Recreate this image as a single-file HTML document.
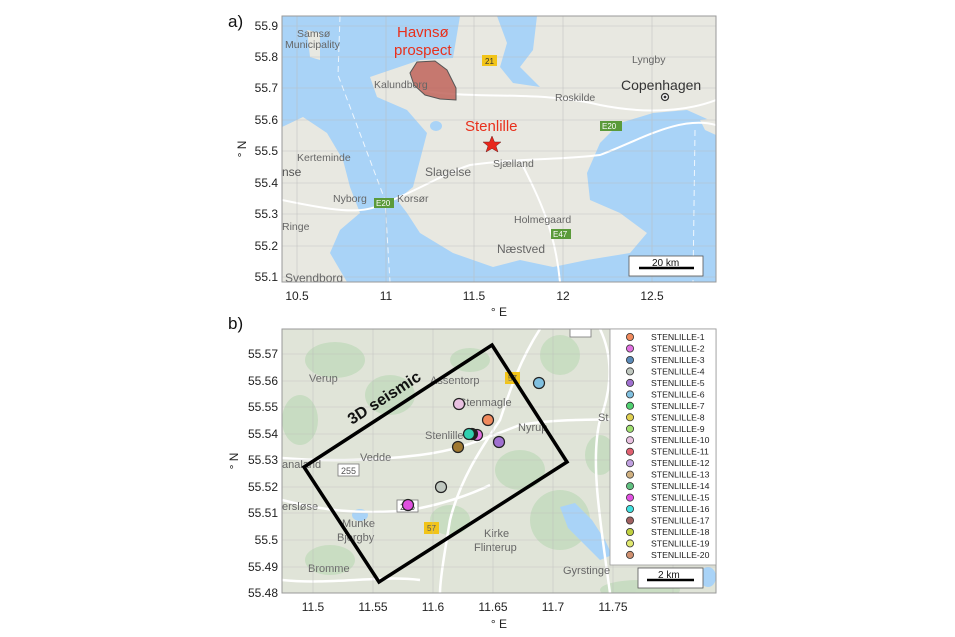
<!DOCTYPE html>
<html><head><meta charset="utf-8"><style>
body{margin:0;background:#fff;}
svg{display:block;font-family:"Liberation Sans",sans-serif;}
</style></head><body>
<svg width="955" height="637" viewBox="0 0 955 637" xmlns="http://www.w3.org/2000/svg">
<defs>
<clipPath id="ca"><rect x="282" y="16" width="434" height="266"/></clipPath>
<clipPath id="cb"><rect x="282" y="329" width="434" height="264"/></clipPath>
</defs>
<!-- ===== Panel a ===== -->
<g clip-path="url(#ca)">
<rect x="282" y="16" width="434" height="266" fill="#a9d3f7"/>
<polygon fill="#e8e8e1" points="370,77 420,60 453,58 460,16 716,16 716,123 687,110 653,113 620,123 600,143 587,173 590,200 620,213 647,233 630,253 587,260 553,267 520,260 493,267 453,253 420,233 407,213 397,200 413,187 420,160 427,133 407,110 377,97"/>
<polygon fill="#a9d3f7" points="497,16 537,16 533,50 520,67 540,87 513,83 500,67 507,43"/>
<polygon fill="#e8e8e1" points="282,127 303,117 327,133 343,160 350,187 360,213 340,230 330,253 347,282 282,282"/>
<polygon fill="#e8e8e1" points="307,30 320,33 320,60 310,57"/>
<polygon fill="#e8e8e1" points="700,120 716,118 716,135 705,130"/>
<ellipse cx="436" cy="126" rx="6" ry="5" fill="#a9d3f7"/>
<g stroke="#fff" stroke-width="2" fill="none">
<path d="M282,200 C330,210 360,215 380,205 C420,190 440,175 470,165 C520,158 560,160 600,155 C640,140 680,115 716,125"/>
<path d="M420,90 C470,100 540,90 600,105 C650,115 690,110 716,100"/>
<path d="M520,160 C540,200 555,230 560,282"/>
</g>
<g stroke="#fff" stroke-width="1" stroke-dasharray="6,4" fill="none" opacity="0.8">
<path d="M340,16 L338,75 L385,200 L390,282"/>
<path d="M695,130 L693,282"/>
</g>
<g stroke="#bbb" stroke-width="0.6" opacity="0.8">
<line x1="297" y1="16" x2="297" y2="282"/><line x1="386" y1="16" x2="386" y2="282"/><line x1="474" y1="16" x2="474" y2="282"/><line x1="563" y1="16" x2="563" y2="282"/><line x1="652" y1="16" x2="652" y2="282"/>
<line x1="282" y1="26" x2="716" y2="26"/><line x1="282" y1="57" x2="716" y2="57"/><line x1="282" y1="88" x2="716" y2="88"/><line x1="282" y1="120" x2="716" y2="120"/><line x1="282" y1="151" x2="716" y2="151"/><line x1="282" y1="183" x2="716" y2="183"/><line x1="282" y1="214" x2="716" y2="214"/><line x1="282" y1="246" x2="716" y2="246"/><line x1="282" y1="277" x2="716" y2="277"/>
</g>
<path d="M417,62 L435,61 L447,70 L456,88 L456,100 L440,99 L425,95 L414,85 L410,73 Z" fill="#c0645a" fill-opacity="0.85" stroke="#555" stroke-width="1"/>
<g fill="#666" font-size="10.5">
<text x="297" y="37">Samsø</text><text x="285" y="48">Municipality</text>
<text x="374" y="88">Kalundborg</text>
<text x="632" y="63">Lyngby</text>
<text x="555" y="101">Roskilde</text>
<text x="297" y="161">Kerteminde</text>
<text x="493" y="167">Sjælland</text>
<text x="425" y="176" font-size="12">Slagelse</text>
<text x="333" y="202">Nyborg</text><text x="397" y="202">Korsør</text>
<text x="514" y="223">Holmegaard</text>
<text x="282" y="230">Ringe</text>
<text x="497" y="253" font-size="12">Næstved</text>
<text x="285" y="282" font-size="12">Svendborg</text>
<text x="282" y="176" font-size="12" fill="#555">nse</text>
</g>
<text x="621" y="90" font-size="14" fill="#333">Copenhagen</text>
<circle cx="665" cy="97" r="3.5" fill="#fff" stroke="#333" stroke-width="1.3"/><circle cx="665" cy="97" r="1.4" fill="#333"/>
<rect x="482" y="55" width="15" height="11" fill="#f2c418"/><text x="485" y="64" font-size="8" fill="#333">21</text>
<rect x="600" y="121" width="22" height="10" fill="#5a9a3a"/><text x="602" y="129" font-size="8" fill="#fff">E20</text>
<rect x="374" y="198" width="20" height="10" fill="#5a9a3a"/><text x="376" y="206" font-size="8" fill="#fff">E20</text>
<rect x="551" y="229" width="20" height="10" fill="#5a9a3a"/><text x="553" y="237" font-size="8" fill="#fff">E47</text>
<polygon points="492,136 494.5,142 501,142 496,146 498,152 492,148.5 486,152 488,146 483,142 489.5,142" fill="#e8261a" stroke="#702020" stroke-width="0.5"/>
<rect x="629" y="256" width="74" height="20" fill="#fff" stroke="#555" stroke-width="0.8"/>
<line x1="639" y1="268" x2="694" y2="268" stroke="#000" stroke-width="2.5"/>
<text x="652" y="266" font-size="10" fill="#111">20 km</text>
</g>
<rect x="282" y="16" width="434" height="266" fill="none" stroke="#999" stroke-width="1"/>
<text x="397" y="37" font-size="15" fill="#e8301c">Havnsø</text>
<text x="394" y="55" font-size="15" fill="#e8301c">prospect</text>
<text x="465" y="131" font-size="15" fill="#e8301c">Stenlille</text>
<g font-size="12" fill="#222" text-anchor="end">
<text x="278" y="30">55.9</text><text x="278" y="61">55.8</text><text x="278" y="92">55.7</text><text x="278" y="124">55.6</text><text x="278" y="155">55.5</text><text x="278" y="187">55.4</text><text x="278" y="218">55.3</text><text x="278" y="250">55.2</text><text x="278" y="281">55.1</text>
</g>
<g font-size="12" fill="#222" text-anchor="middle">
<text x="297" y="300">10.5</text><text x="386" y="300">11</text><text x="474" y="300">11.5</text><text x="563" y="300">12</text><text x="652" y="300">12.5</text>
<text x="499" y="316">° E</text>
</g>
<text x="0" y="0" font-size="12" fill="#222" text-anchor="middle" transform="translate(246,149) rotate(-90)">° N</text>
<text x="228" y="27" font-size="17" fill="#111">a)</text>

<!-- ===== Panel b ===== -->
<g clip-path="url(#cb)">
<rect x="282" y="329" width="434" height="264" fill="#e0e4d8"/>
<g fill="#c6dcc0" opacity="0.9">
<ellipse cx="335" cy="360" rx="30" ry="18"/><ellipse cx="390" cy="395" rx="25" ry="20"/><ellipse cx="300" cy="420" rx="18" ry="25"/>
<ellipse cx="520" cy="470" rx="25" ry="20"/><ellipse cx="560" cy="520" rx="30" ry="30"/><ellipse cx="450" cy="520" rx="20" ry="15"/>
<ellipse cx="600" cy="455" rx="15" ry="20"/><ellipse cx="330" cy="560" rx="25" ry="15"/><ellipse cx="470" cy="360" rx="20" ry="12"/>
<ellipse cx="560" cy="355" rx="20" ry="20"/><ellipse cx="640" cy="590" rx="40" ry="10"/>
</g>
<polygon fill="#a9d3f7" points="560,507 575,503 592,520 605,540 612,555 600,560 585,545 568,528"/>
<ellipse cx="360" cy="515" rx="8" ry="6" fill="#a9d3f7"/>
<ellipse cx="708" cy="577" rx="8" ry="10" fill="#a9d3f7"/>
<g stroke="#fff" stroke-width="2.5" fill="none">
<path d="M282,458 C330,462 380,460 420,455 C460,450 480,440 520,425 C560,418 600,420 716,418"/>
<path d="M540,329 C520,360 510,390 500,420 C480,450 460,480 450,520 C445,550 440,580 440,593"/>
<path d="M282,500 C320,510 360,515 410,510 C440,505 470,495 490,485"/>
<path d="M600,329 C610,350 615,380 600,420 C590,460 600,520 610,593"/>
<path d="M282,580 C330,585 380,575 420,580"/>
</g>
<g fill="#666" font-size="11">
<text x="309" y="382">Verup</text>
<text x="430" y="384">Assentorp</text>
<text x="459" y="406">Stenmagle</text>
<text x="425" y="439">Stenlille</text>
<text x="518" y="431">Nyrup</text>
<text x="598" y="421">St</text>
<text x="360" y="461">Vedde</text>
<text x="282" y="468">analand</text>
<text x="282" y="510">ersløse</text>
<text x="342" y="527">Munke</text><text x="337" y="541">Bjergby</text>
<text x="484" y="537">Kirke</text><text x="474" y="551">Flinterup</text>
<text x="308" y="572">Bromme</text>
<text x="563" y="574">Gyrstinge</text>
</g>
<rect x="338" y="464" width="21" height="12" fill="#fff" stroke="#777" stroke-width="0.8"/><text x="341" y="474" font-size="9" fill="#555">255</text>
<rect x="397" y="500" width="21" height="12" fill="#fff" stroke="#777" stroke-width="0.8"/><text x="400" y="510" font-size="9" fill="#555">255</text>
<rect x="505" y="372" width="15" height="12" fill="#f2c418"/><text x="508" y="381" font-size="8" fill="#555">57</text>
<rect x="424" y="522" width="15" height="12" fill="#f2c418"/><text x="427" y="531" font-size="8" fill="#555">57</text>
<rect x="570" y="329" width="21" height="8" fill="#fff" stroke="#777" stroke-width="0.8"/>
<g stroke="#bbb" stroke-width="0.6" opacity="0.7">
<line x1="313" y1="329" x2="313" y2="593"/><line x1="373" y1="329" x2="373" y2="593"/><line x1="433" y1="329" x2="433" y2="593"/><line x1="493" y1="329" x2="493" y2="593"/><line x1="553" y1="329" x2="553" y2="593"/><line x1="613" y1="329" x2="613" y2="593"/><line x1="673" y1="329" x2="673" y2="593"/>
<line x1="282" y1="354" x2="716" y2="354"/><line x1="282" y1="381" x2="716" y2="381"/><line x1="282" y1="407" x2="716" y2="407"/><line x1="282" y1="434" x2="716" y2="434"/><line x1="282" y1="460" x2="716" y2="460"/><line x1="282" y1="487" x2="716" y2="487"/><line x1="282" y1="513" x2="716" y2="513"/><line x1="282" y1="540" x2="716" y2="540"/><line x1="282" y1="567" x2="716" y2="567"/>
</g>
<polygon points="492,345 567,462 379,582 304,467" fill="none" stroke="#000" stroke-width="3.5" stroke-linejoin="miter"/>
<text x="0" y="0" font-size="16" font-weight="bold" fill="#111" transform="translate(352,425) rotate(-33)">3D seismic</text>
<g stroke="#222" stroke-width="1.2">
<circle cx="539" cy="383" r="5.5" fill="#80c0e0"/>
<circle cx="459" cy="404" r="5.5" fill="#e8c0e0"/>
<circle cx="488" cy="420" r="5.5" fill="#f08a5d"/>
<circle cx="477" cy="435" r="5.5" fill="#e070e0"/>
<circle cx="472" cy="434" r="5.5" fill="#222"/>
<circle cx="469" cy="434" r="5.5" fill="#30d0b0"/>
<circle cx="499" cy="442" r="5.5" fill="#a070d0"/>
<circle cx="458" cy="447" r="5.5" fill="#a07830"/>
<circle cx="441" cy="487" r="5.5" fill="#c0c8c0"/>
<circle cx="408" cy="505" r="5.5" fill="#e050e0"/>
</g>
<rect x="638" y="568" width="65" height="20" fill="#fff" stroke="#555" stroke-width="0.8"/>
<line x1="647" y1="580" x2="694" y2="580" stroke="#000" stroke-width="2.5"/>
<text x="658" y="578" font-size="10" fill="#111">2 km</text>
</g>
<rect x="282" y="329" width="434" height="264" fill="none" stroke="#999" stroke-width="1"/>
<rect x="610" y="329" width="106" height="236" fill="#fff" stroke="#999" stroke-width="0.8"/>
<g stroke="#333" stroke-width="0.8">
<circle cx="630" cy="337.0" r="3.6" fill="#f08a5d"/>
<circle cx="630" cy="348.5" r="3.6" fill="#e070e0"/>
<circle cx="630" cy="360.0" r="3.6" fill="#5a8ab8"/>
<circle cx="630" cy="371.4" r="3.6" fill="#c0c8c0"/>
<circle cx="630" cy="382.9" r="3.6" fill="#a070d0"/>
<circle cx="630" cy="394.4" r="3.6" fill="#80c0e0"/>
<circle cx="630" cy="405.8" r="3.6" fill="#50d070"/>
<circle cx="630" cy="417.3" r="3.6" fill="#e0d050"/>
<circle cx="630" cy="428.8" r="3.6" fill="#a0e070"/>
<circle cx="630" cy="440.2" r="3.6" fill="#e8c0e0"/>
<circle cx="630" cy="451.7" r="3.6" fill="#e06070"/>
<circle cx="630" cy="463.2" r="3.6" fill="#c0a0e0"/>
<circle cx="630" cy="474.6" r="3.6" fill="#d0b080"/>
<circle cx="630" cy="486.1" r="3.6" fill="#60c080"/>
<circle cx="630" cy="497.6" r="3.6" fill="#e050e0"/>
<circle cx="630" cy="509.0" r="3.6" fill="#40e0e0"/>
<circle cx="630" cy="520.5" r="3.6" fill="#a06060"/>
<circle cx="630" cy="532.0" r="3.6" fill="#c0d040"/>
<circle cx="630" cy="543.4" r="3.6" fill="#e0e870"/>
<circle cx="630" cy="554.9" r="3.6" fill="#d09070"/>
</g>
<g font-size="8.7" fill="#222">
<text x="651" y="340">STENLILLE-1</text><text x="651" y="351.5">STENLILLE-2</text><text x="651" y="363">STENLILLE-3</text><text x="651" y="374.4">STENLILLE-4</text><text x="651" y="385.9">STENLILLE-5</text><text x="651" y="397.4">STENLILLE-6</text><text x="651" y="408.8">STENLILLE-7</text><text x="651" y="420.3">STENLILLE-8</text><text x="651" y="431.8">STENLILLE-9</text><text x="651" y="443.2">STENLILLE-10</text><text x="651" y="454.7">STENLILLE-11</text><text x="651" y="466.2">STENLILLE-12</text><text x="651" y="477.6">STENLILLE-13</text><text x="651" y="489.1">STENLILLE-14</text><text x="651" y="500.6">STENLILLE-15</text><text x="651" y="512">STENLILLE-16</text><text x="651" y="523.5">STENLILLE-17</text><text x="651" y="535">STENLILLE-18</text><text x="651" y="546.4">STENLILLE-19</text><text x="651" y="557.9">STENLILLE-20</text>
</g>
<g font-size="12" fill="#222" text-anchor="end">
<text x="278" y="358">55.57</text><text x="278" y="385">55.56</text><text x="278" y="411">55.55</text><text x="278" y="438">55.54</text><text x="278" y="464">55.53</text><text x="278" y="491">55.52</text><text x="278" y="517">55.51</text><text x="278" y="544">55.5</text><text x="278" y="571">55.49</text><text x="278" y="597">55.48</text>
</g>
<g font-size="12" fill="#222" text-anchor="middle">
<text x="313" y="611">11.5</text><text x="373" y="611">11.55</text><text x="433" y="611">11.6</text><text x="493" y="611">11.65</text><text x="553" y="611">11.7</text><text x="613" y="611">11.75</text>
<text x="499" y="628">° E</text>
</g>
<text x="0" y="0" font-size="12" fill="#222" text-anchor="middle" transform="translate(238,461) rotate(-90)">° N</text>
<text x="228" y="329" font-size="17" fill="#111">b)</text>
</svg>
</body></html>
